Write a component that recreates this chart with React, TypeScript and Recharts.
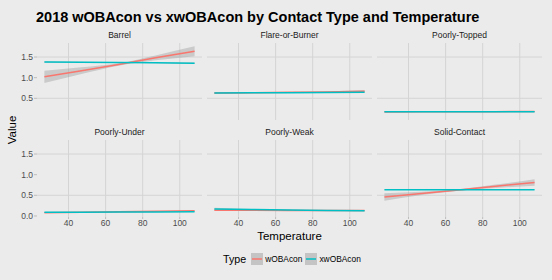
import { ComposedChart, Area, Line, XAxis, YAxis, CartesianGrid } from 'recharts';

// temperatures where each fitted line and its band are sampled
const temps = [27, 47, 67, 87, 108];

const facetNames = ['Barrel', 'Flare-or-Burner', 'Poorly-Topped', 'Poorly-Under', 'Poorly-Weak', 'Solid-Contact'];

// fitted wOBAcon / xwOBAcon and half-width of the confidence band, per contact type
const barrelWoba = [1.02, 1.17, 1.32, 1.48, 1.64];
const barrelXwoba = [1.38, 1.375, 1.37, 1.36, 1.35];
const barrelWobaCi = [0.15, 0.08, 0.03, 0.06, 0.12];
const barrelXwobaCi = [0.02, 0.01, 0.006, 0.01, 0.02];

const flareWoba = [0.63, 0.635, 0.645, 0.655, 0.67];
const flareXwoba = [0.63, 0.633, 0.637, 0.64, 0.645];
const flareWobaCi = [0.02, 0.01, 0.005, 0.01, 0.03];
const flareXwobaCi = [0.01, 0.005, 0.003, 0.005, 0.01];

const toppedWoba = [0.17, 0.172, 0.175, 0.177, 0.18];
const toppedXwoba = [0.175, 0.175, 0.176, 0.176, 0.177];
const toppedWobaCi = [0.01, 0.005, 0.003, 0.005, 0.01];
const toppedXwobaCi = [0.005, 0.003, 0.002, 0.003, 0.005];

const underWoba = [0.08, 0.09, 0.1, 0.112, 0.125];
const underXwoba = [0.09, 0.093, 0.095, 0.097, 0.1];
const underWobaCi = [0.01, 0.005, 0.003, 0.005, 0.012];
const underXwobaCi = [0.006, 0.003, 0.002, 0.003, 0.006];

const weakWoba = [0.14, 0.138, 0.135, 0.133, 0.13];
const weakXwoba = [0.17, 0.157, 0.145, 0.135, 0.125];
const weakWobaCi = [0.015, 0.008, 0.004, 0.006, 0.01];
const weakXwobaCi = [0.03, 0.012, 0.005, 0.006, 0.01];

const solidWoba = [0.46, 0.545, 0.63, 0.72, 0.81];
const solidXwoba = [0.635, 0.635, 0.635, 0.635, 0.635];
const solidWobaCi = [0.09, 0.04, 0.02, 0.04, 0.08];
const solidXwobaCi = [0.008, 0.004, 0.003, 0.004, 0.008];

const xTicks = [40, 60, 80, 100];
const yTicks = [0, 0.5, 1, 1.5];

const RED = '#F8766D';
const TEAL = '#00BFC4';
const BG = '#EBEBEB';
const GRID = '#D4D4D4';

const series = [
  [barrelWoba, barrelXwoba, barrelWobaCi, barrelXwobaCi],
  [flareWoba, flareXwoba, flareWobaCi, flareXwobaCi],
  [toppedWoba, toppedXwoba, toppedWobaCi, toppedXwobaCi],
  [underWoba, underXwoba, underWobaCi, underXwobaCi],
  [weakWoba, weakXwoba, weakWobaCi, weakXwobaCi],
  [solidWoba, solidXwoba, solidWobaCi, solidXwobaCi],
];

const buildRows = (idx: number) => {
  const [w, x, wc, xc] = series[idx];
  return temps.map((t, i) => ({
    t,
    woba: w[i],
    xwoba: x[i],
    wobaBand: [w[i] - wc[i], w[i] + wc[i]],
    xwobaBand: [x[i] - xc[i], x[i] + xc[i]],
  }));
};

const PANEL_W = 165;
const PANEL_H = 77;
const panelLeft = [37, 207, 377];
const panelTop = [43, 139.5];
const Y_AXIS_W = 37;
const X_AXIS_H = 20;

const tickStyle = { fontSize: 8.5, fill: '#4D4D4D' };

function Facet({ idx }: { idx: number }) {
  const col = idx % 3;
  const row = Math.floor(idx / 3);
  const showY = col === 0;
  const showX = row === 1;
  const width = PANEL_W + (showY ? Y_AXIS_W : 0);
  const height = PANEL_H + (showX ? X_AXIS_H : 0);
  return (
    <>
      <div
        style={{
          position: 'absolute',
          left: panelLeft[col],
          width: PANEL_W,
          top: panelTop[row] - 13,
          textAlign: 'center',
          fontSize: 8.5,
          color: '#1A1A1A',
          lineHeight: '10px',
        }}
      >
        {facetNames[idx]}
      </div>
      <div style={{ position: 'absolute', left: panelLeft[col] - (showY ? Y_AXIS_W : 0), top: panelTop[row] }}>
        <ComposedChart
          width={width}
          height={height}
          data={buildRows(idx)}
          margin={{ top: 0, right: 0, bottom: 0, left: 0 }}
        >
          <CartesianGrid stroke={GRID} strokeWidth={1} horizontalValues={yTicks} verticalValues={xTicks} />
          <XAxis
            type="number"
            dataKey="t"
            domain={[23, 112]}
            ticks={xTicks}
            hide={!showX}
            height={X_AXIS_H}
            axisLine={false}
            tickSize={2}
            tickMargin={1}
            tickLine={{ stroke: '#BDBDBD' }}
            tick={tickStyle}
            allowDataOverflow
          />
          <YAxis
            type="number"
            domain={[-0.025, 1.84]}
            ticks={yTicks}
            tickFormatter={(v: number) => v.toFixed(1)}
            hide={!showY}
            width={Y_AXIS_W}
            axisLine={false}
            tickSize={3}
            tickMargin={1}
            tickLine={{ stroke: '#BDBDBD' }}
            tick={tickStyle}
            allowDataOverflow
          />
          {/* confidence bands first, fitted lines on top */}
          <Area dataKey="wobaBand" type="monotone" stroke="none" fill="#999999" fillOpacity={0.4} isAnimationActive={false} />
          <Area dataKey="xwobaBand" type="monotone" stroke="none" fill="#999999" fillOpacity={0.4} isAnimationActive={false} />
          <Line dataKey="woba" type="linear" stroke={RED} strokeWidth={1.5} dot={false} isAnimationActive={false} />
          <Line dataKey="xwoba" type="linear" stroke={TEAL} strokeWidth={1.5} dot={false} isAnimationActive={false} />
        </ComposedChart>
      </div>
    </>
  );
}

function LegendKey({ color }: { color: string }) {
  return (
    <svg width={12} height={12} style={{ display: 'block' }}>
      <rect x={0} y={0} width={12} height={12} fill="#C4C4C4" />
      <line x1={1} x2={11} y1={6} y2={6} stroke={color} strokeWidth={1.5} />
    </svg>
  );
}

export default function App() {
  return (
    <div
      style={{
        position: 'absolute',
        left: 0,
        top: 0,
        width: 552,
        height: 280,
        background: BG,
        fontFamily: '"Liberation Sans", Arial, sans-serif',
        overflow: 'hidden',
      }}
    >
      <div
        style={{
          position: 'absolute',
          left: 36,
          top: 8,
          fontSize: 14.5,
          fontWeight: 'bold',
          color: '#000',
          lineHeight: '18px',
          whiteSpace: 'nowrap',
        }}
      >
        2018 wOBAcon vs xwOBAcon by Contact Type and Temperature
      </div>

      {facetNames.map((_, i) => (
        <Facet key={i} idx={i} />
      ))}

      <div
        style={{
          position: 'absolute',
          left: 12,
          top: 130,
          transform: 'translate(-50%, -50%) rotate(-90deg)',
          fontSize: 11.5,
          color: '#000',
        }}
      >
        Value
      </div>
      <div
        style={{
          position: 'absolute',
          left: 37,
          width: 505,
          top: 229,
          textAlign: 'center',
          fontSize: 11.5,
          color: '#000',
          lineHeight: '14px',
        }}
      >
        Temperature
      </div>

      <div
        style={{
          position: 'absolute',
          left: 223,
          top: 253,
          display: 'flex',
          alignItems: 'center',
          whiteSpace: 'nowrap',
          color: '#000',
        }}
      >
        <span style={{ fontSize: 10.7, marginRight: 5 }}>Type</span>
        <LegendKey color={RED} />
        <span style={{ fontSize: 8.4, marginLeft: 2, marginRight: 3 }}>wOBAcon</span>
        <LegendKey color={TEAL} />
        <span style={{ fontSize: 8.4, marginLeft: 2 }}>xwOBAcon</span>
      </div>
    </div>
  );
}
